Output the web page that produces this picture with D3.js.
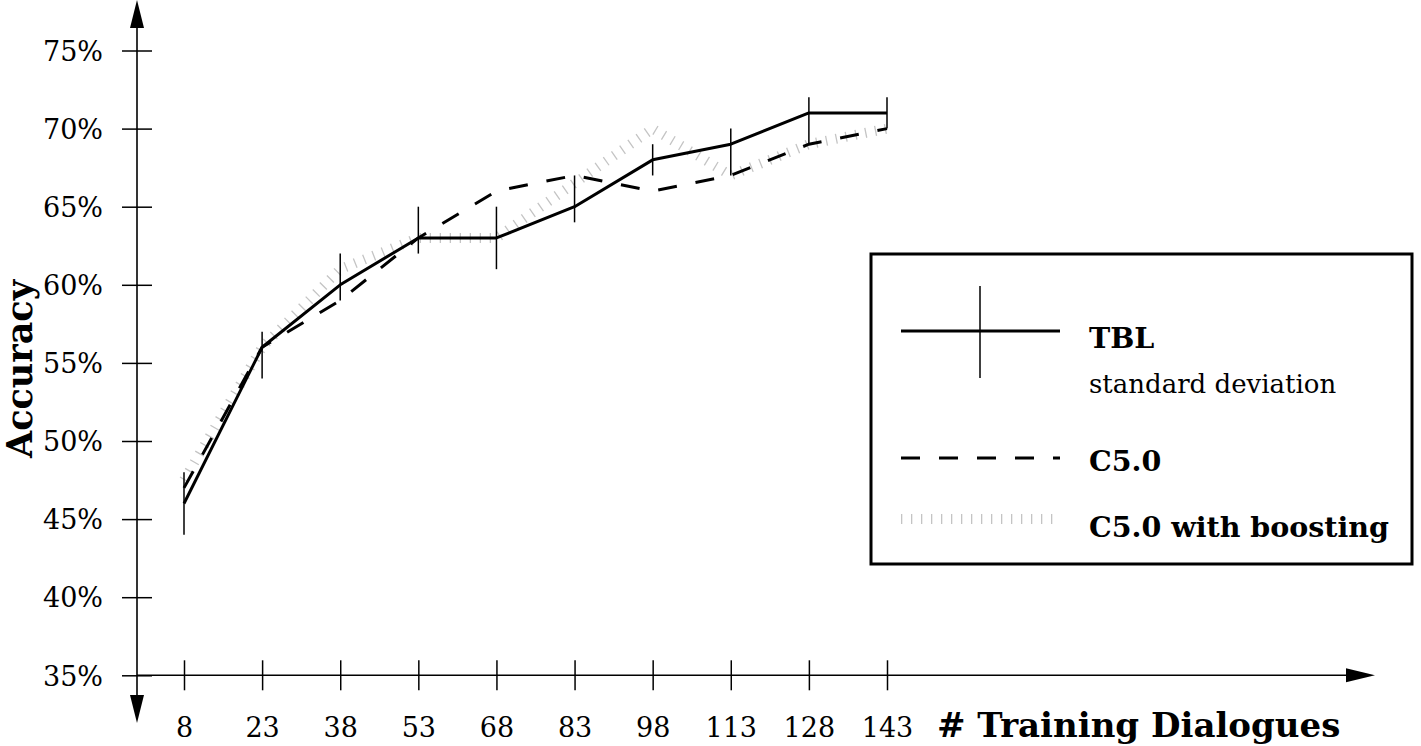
<!DOCTYPE html>
<html>
<head>
<meta charset="utf-8">
<script src="https://cdn.jsdelivr.net/npm/d3@7"></script>
<style>
  body { margin: 0; background: #fff; }
  svg { display: block; font-family: "DejaVu Serif", serif; }
</style>
</head>
<body>
<svg id="chart"></svg>
<script>
// training dialogues
const dialogues = [8, 23, 38, 53, 68, 83, 98, 113, 128, 143];
// accuracy in %
const tbl = [46, 56, 60, 63, 63, 65, 68, 69, 71, 71];
const tblLow = [44, 54, 59, 62, 61, 64, 67, 67, 69, 70];
const tblHigh = [48, 57, 62, 65, 65, 67, 69, 70, 72, 72];
const c50 = [47, 56, 59, 63, 66, 67, 66, 67, 69, 70];
const c50Boost = [47.5, 56, 61, 63, 63, 66.5, 70, 67, 69, 70];
const yTicks = [35, 40, 45, 50, 55, 60, 65, 70, 75];

const svg = d3.select("#chart")
  .attr("width", 1421)
  .attr("height", 746);

const x = d3.scaleLinear().domain([8, 143]).range([184, 887]);
const y = d3.scaleLinear().domain([35, 75]).range([675.3, 50.5]);
const axisX = 137;

// arrow heads
function arrow(points) {
  svg.append("path")
    .attr("d", "M" + points.join("L") + "Z")
    .attr("fill", "#000");
}

// y axis (arrows both ends)
svg.append("line")
  .attr("x1", axisX).attr("x2", axisX)
  .attr("y1", 20).attr("y2", 705)
  .attr("stroke", "#000").attr("stroke-width", 1.6);
arrow([[axisX, 0], [axisX - 7, 28], [axisX + 7, 28]]);
arrow([[axisX, 723], [axisX - 7, 695], [axisX + 7, 695]]);

// x axis
svg.append("line")
  .attr("x1", axisX).attr("x2", 1355)
  .attr("y1", y(35)).attr("y2", y(35))
  .attr("stroke", "#000").attr("stroke-width", 1.6);
arrow([[1375, y(35)], [1346, y(35) - 7], [1346, y(35) + 7]]);

const gy = svg.append("g")
  .attr("transform", `translate(${axisX},0)`)
  .call(d3.axisLeft(y).tickValues(yTicks).tickFormat(d => d + "%").tickSize(15).tickPadding(19));
gy.select(".domain").remove();
gy.selectAll(".tick line").attr("x1", 15).attr("stroke-width", 1.5);
gy.selectAll(".tick text")
  .attr("font-family", "DejaVu Serif")
  .attr("font-size", 27)
  .attr("fill", "#000")
  .attr("dy", "0.36em");

const gx = svg.append("g")
  .attr("transform", `translate(0,${y(35)})`)
  .call(d3.axisBottom(x).tickValues(dialogues).tickSize(15).tickPadding(28));
gx.select(".domain").remove();
gx.selectAll(".tick line").attr("y1", -15).attr("stroke-width", 1.5);
gx.selectAll(".tick text")
  .attr("font-family", "DejaVu Serif")
  .attr("font-size", 27)
  .attr("fill", "#000");

// axis titles
svg.append("text")
  .attr("x", 937).attr("y", 737)
  .attr("font-size", 34).attr("font-weight", "bold")
  .text("# Training Dialogues");

svg.append("text")
  .attr("transform", "translate(32,369) rotate(-90)")
  .attr("text-anchor", "middle")
  .attr("font-size", 35).attr("font-weight", "bold")
  .text("Accuracy");

// series
const line = d3.line()
  .x((d, i) => x(dialogues[i]))
  .y(d => y(d));

svg.append("path")
  .datum(c50Boost)
  .attr("d", line)
  .attr("fill", "none")
  .attr("stroke", "#c4c4c4")
  .attr("stroke-width", 10)
  .attr("stroke-dasharray", "1.3,8.7");

svg.append("path")
  .datum(c50)
  .attr("d", line)
  .attr("fill", "none")
  .attr("stroke", "#000")
  .attr("stroke-width", 3)
  .attr("stroke-dasharray", "19,19");

svg.append("path")
  .datum(tbl)
  .attr("d", line)
  .attr("fill", "none")
  .attr("stroke", "#000")
  .attr("stroke-width", 3)
  .attr("stroke-linejoin", "round");

// std deviation bars
svg.append("g").selectAll("line")
  .data(dialogues)
  .enter().append("line")
  .attr("x1", d => x(d)).attr("x2", d => x(d))
  .attr("y1", (d, i) => y(tblLow[i]))
  .attr("y2", (d, i) => y(tblHigh[i]))
  .attr("stroke", "#000")
  .attr("stroke-width", 1.5);

// legend
const legend = svg.append("g");
legend.append("rect")
  .attr("x", 871).attr("y", 254)
  .attr("width", 541).attr("height", 310)
  .attr("fill", "#fff")
  .attr("stroke", "#000").attr("stroke-width", 3);

legend.append("line")
  .attr("x1", 901).attr("x2", 1060).attr("y1", 331).attr("y2", 331)
  .attr("stroke", "#000").attr("stroke-width", 3);
legend.append("line")
  .attr("x1", 980).attr("x2", 980).attr("y1", 286).attr("y2", 378)
  .attr("stroke", "#000").attr("stroke-width", 1.5);
legend.append("line")
  .attr("x1", 901).attr("x2", 1060).attr("y1", 458).attr("y2", 458)
  .attr("stroke", "#000").attr("stroke-width", 3)
  .attr("stroke-dasharray", "19,19");
legend.append("line")
  .attr("x1", 901).attr("x2", 1055).attr("y1", 519).attr("y2", 519)
  .attr("stroke", "#c4c4c4").attr("stroke-width", 10)
  .attr("stroke-dasharray", "1.3,8.7");

legend.append("text")
  .attr("x", 1089).attr("y", 348)
  .attr("font-size", 28.5).attr("font-weight", "bold")
  .text("TBL");
legend.append("text")
  .attr("x", 1089).attr("y", 393)
  .attr("font-size", 26)
  .text("standard deviation");
legend.append("text")
  .attr("x", 1089).attr("y", 471)
  .attr("font-size", 28.5).attr("font-weight", "bold")
  .text("C5.0");
legend.append("text")
  .attr("x", 1089).attr("y", 537)
  .attr("font-size", 28.5).attr("font-weight", "bold")
  .text("C5.0 with boosting");
</script>
</body>
</html>
